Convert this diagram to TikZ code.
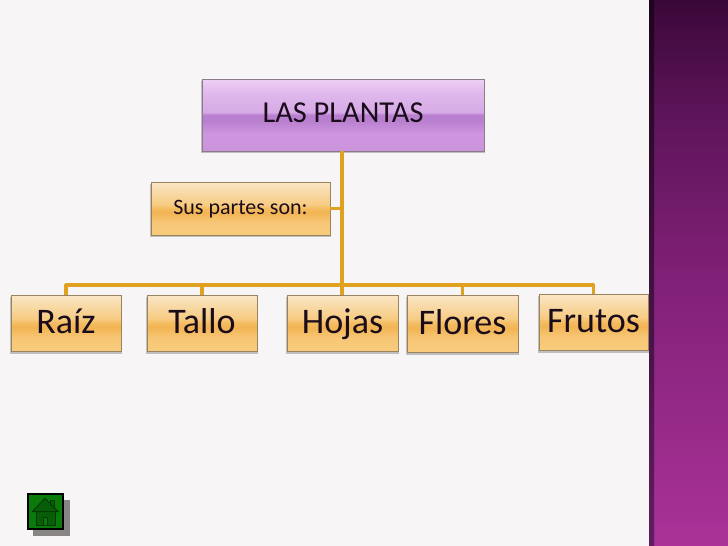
\documentclass[tikz,border=0pt]{standalone}
\usepackage{fontspec}
\setmainfont{Carlito}
\definecolor{pageBg}{HTML}{F7F5F5}
\definecolor{lineOr}{HTML}{E0A020}
\definecolor{inkDark}{HTML}{1A0C1A}
\definecolor{edgePur}{HTML}{8A7A8A}
\definecolor{edgeOr}{HTML}{9A8460}
\definecolor{houseGreen}{HTML}{0A7A0A}
\definecolor{houseMid}{HTML}{085E08}
\definecolor{houseDark}{HTML}{053A05}
\definecolor{btnShadow}{HTML}{8A8585}
\definecolor{pa}{RGB}{204,148,220}
\definecolor{pb}{RGB}{205,150,222}
\definecolor{pc}{RGB}{186,128,208}
\definecolor{pd}{RGB}{214,170,230}
\definecolor{pe}{RGB}{224,184,236}
\definecolor{pf}{RGB}{238,208,244}
\definecolor{oa}{RGB}{247,198,118}
\definecolor{ob}{RGB}{248,204,124}
\definecolor{oc}{RGB}{242,180,84}
\definecolor{od}{RGB}{244,188,96}
\definecolor{oe}{RGB}{247,204,132}
\definecolor{of}{RGB}{250,230,198}
\definecolor{na}{RGB}{170,50,152}
\definecolor{nb}{RGB}{128,32,118}
\definecolor{nc}{RGB}{92,20,88}
\definecolor{nd}{RGB}{58,8,56}
\definecolor{sa}{RGB}{96,30,96}
\definecolor{sb}{RGB}{30,4,30}
\pgfdeclareverticalshading{purShade}{100bp}{
 color(0bp)=(pa); color(25bp)=(pa); color(37bp)=(pb); color(46bp)=(pc);
 color(50bp)=(pc); color(52bp)=(pd); color(65bp)=(pe); color(75bp)=(pf); color(100bp)=(pf)}
\pgfdeclareverticalshading{orShade}{100bp}{
 color(0bp)=(oa); color(25bp)=(ob); color(37bp)=(oa); color(46bp)=(oc);
 color(50bp)=(od); color(54bp)=(oe); color(75bp)=(of); color(100bp)=(of)}
\pgfdeclareverticalshading{panelShade}{100bp}{
 color(0bp)=(na); color(25bp)=(na); color(50bp)=(nb); color(65bp)=(nc);
 color(75bp)=(nd); color(100bp)=(nd)}
\pgfdeclareverticalshading{stripShade}{100bp}{
 color(0bp)=(sa); color(25bp)=(sa); color(75bp)=(sb); color(100bp)=(sb)}
\tikzset{
 x=0.75pt,y=-0.75pt,
 boxbase/.style={anchor=center,inner sep=0pt,text=inkDark,align=center},
 purbox/.style={boxbase,shading=purShade,draw=edgePur,line width=0.7pt},
 orbox/.style={boxbase,shading=orShade,draw=edgeOr,line width=0.7pt},
 bigtext/.style={font=\fontsize{27}{30}\selectfont,text height=17.3pt,text depth=1.5pt},
 shadowbox/.style={fill=black,opacity=0.22},
 conn/.style={draw=lineOr,line width=2.3pt,line join=round}
}
\newcommand{\partbox}[6]{%
 \fill[shadowbox] (#2-1,#3+1.5) rectangle (#4+1,#5+2.5);
 \node[orbox,bigtext,minimum width=#4*0.75pt-#2*0.75pt,minimum height=#5*0.75pt-#3*0.75pt] (#1) at ({(#2+#4)/2},{(#3+#5)/2}) {#6};
}
\begin{document}
\begin{tikzpicture}
\useasboundingbox (0,0) rectangle (728,546);
\fill[pageBg] (0,0) rectangle (728,546);
% right panel
\shade[shading=panelShade] (650,0) rectangle (728,546);
\shade[shading=stripShade] (649,0) rectangle (654,546);
% boxes
\fill[shadowbox] (201,81) rectangle (485,153);
\node[purbox,minimum width=211.5pt,minimum height=54pt,font=\fontsize{22.8}{25}\selectfont,text height=14.6pt,text depth=3pt] (top) at (343,115) {LAS PLANTAS};
\fill[shadowbox] (150,184) rectangle (331,237);
\node[orbox,minimum width=134.25pt,minimum height=39.75pt,font=\fontsize{16.5}{19}\selectfont,text height=10.6pt,text depth=1.5pt] (sus) at (240.5,208.5) {Sus partes son:};
\partbox{raiz}{11}{295}{121}{351}{Raíz}
\partbox{tallo}{147}{295}{257}{351}{Tallo}
\partbox{hojas}{287}{295}{398}{351}{Hojas}
\partbox{flores}{407}{295}{518}{352}{Flores}
\partbox{frutos}{539}{294}{648}{350}{Frutos}
\coordinate (bus) at (342,285);
% connectors
\draw[conn] (top.south -| bus) -- (bus) -- (hojas.north -| bus);
\draw[conn] (raiz.north) |- (bus) -| (frutos.north);
\draw[conn] (tallo.north) -- (tallo.north |- bus);
\draw[conn] (flores.north) -- (flores.north |- bus);
\draw[conn] (sus.east) -- (sus.east -| bus);
% home button
\fill[btnShadow] (33,500) rectangle (70,536);
\fill[houseGreen,draw=black,line width=0.9pt] (28,494) rectangle (63,529);
\begin{scope}[draw=houseDark,line width=0.7pt]
\draw[fill=houseMid] (50,500) rectangle (54,506);
\draw[fill=houseMid] (36,511) rectangle (55,525);
\draw[fill=houseMid] (45,498.3) -- (58.3,511.7) -- (32.3,511.7) -- cycle;
\draw[fill=houseGreen] (43.3,517.7) rectangle (47.7,525);
\end{scope}
\end{tikzpicture}
\end{document}
